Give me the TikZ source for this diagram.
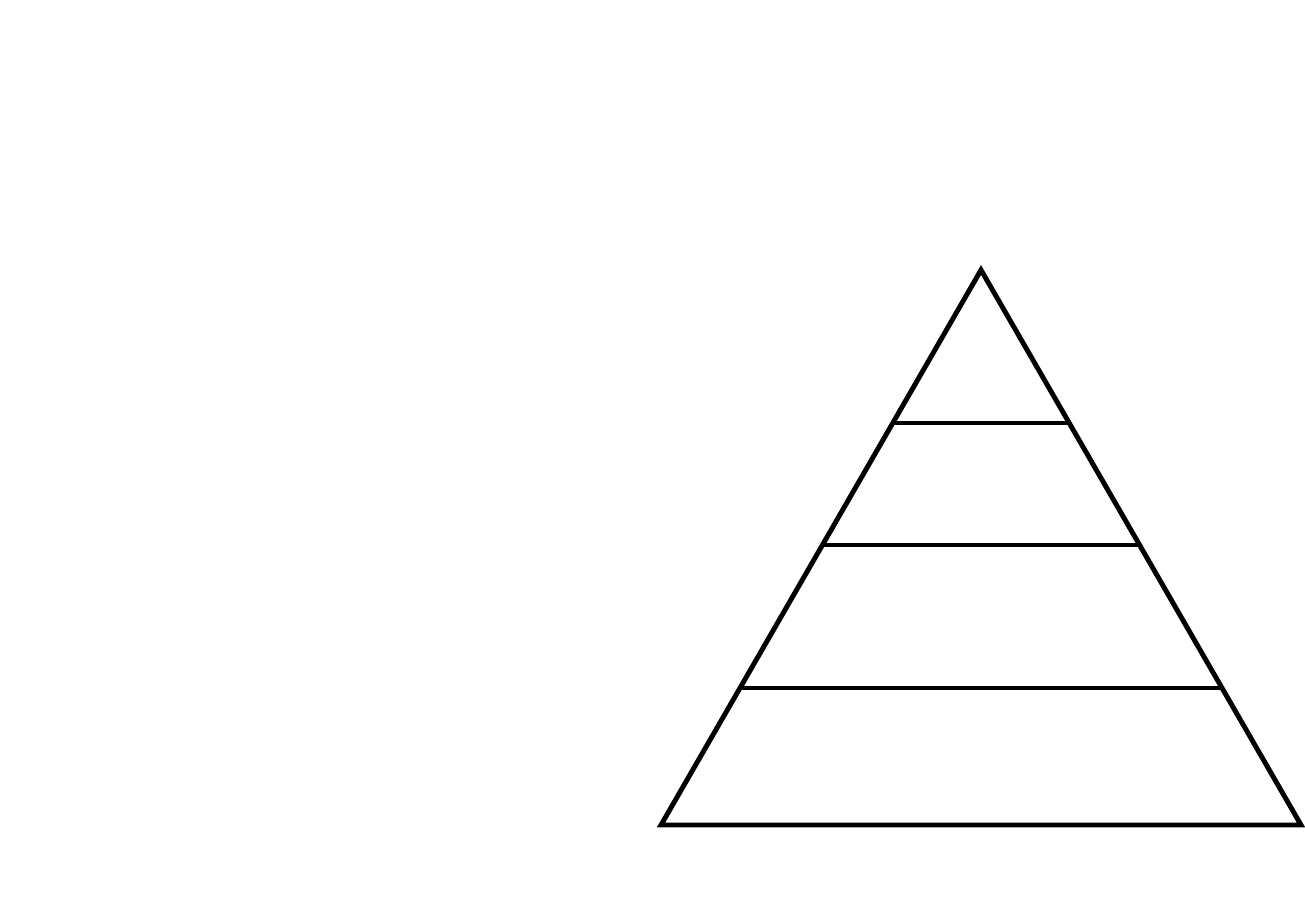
\documentclass[tikz,border=0pt]{standalone}
\usetikzlibrary{calc}
\begin{document}
\begin{tikzpicture}[layer/.style={line width=2.8pt}]
    \useasboundingbox (0,0) rectangle (26.1,18.06);
    \coordinate (apex) at (19.62,12.66);
    \coordinate (baseleft) at (13.22,1.56);
    \coordinate (baseright) at (26.02,1.56);

    \draw[layer] (apex) -- (baseleft) -- (baseright) -- cycle;
    \foreach \t/\name in {0.2757/top, 0.4955/middle, 0.7532/bottom} {
        \coordinate (\name left) at ($(apex)!\t!(baseleft)$);
        \coordinate (\name right) at ($(apex)!\t!(baseright)$);
        \draw[layer] (\name left) -- (\name right);
    }
\end{tikzpicture}
\end{document}
